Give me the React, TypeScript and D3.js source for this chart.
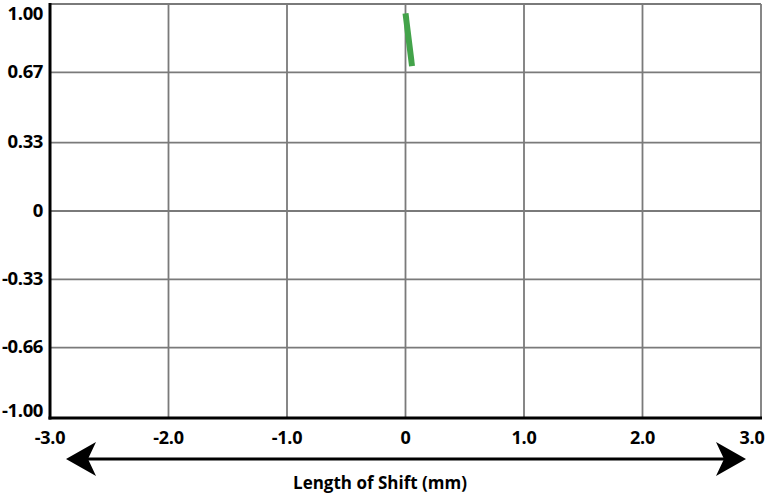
import React from "react";
import * as d3 from "d3";

const xTicks = [-3, -2, -1, 0, 1, 2, 3];
const xTickLabels = ["-3.0", "-2.0", "-1.0", "0", "1.0", "2.0", "3.0"];
const yTicks = [1.0, 0.67, 0.33, 0, -0.33, -0.66, -1.0];
const yTickLabels = ["1.00", "0.67", "0.33", "0", "-0.33", "-0.66", "-1.00"];
const lineX = [0.0, 0.055];
const lineY = [0.955, 0.7];
const xTitle = "Length of Shift (mm)";

const W = 768;
const H = 498;
const M = { left: 50, right: 8, top: 4, bottom: 80 };

export default function App() {
  const x = d3.scaleLinear().domain([-3, 3]).range([M.left, W - M.right + 1]);
  const y = d3.scaleLinear().domain([-1, 1]).range([H - M.bottom, M.top]);
  const pts: [number, number][] = lineX.map((v, i) => [v, lineY[i]]);
  const line = d3
    .line<[number, number]>()
    .x((d) => x(d[0]))
    .y((d) => y(d[1]));
  const font = "'Open Sans', 'Noto Sans', sans-serif";
  const arrowY = 459;
  const aL = 66;
  const aR = 746;
  const headLen = 30;
  const headHalf = 17;
  const notch = 8;
  const leftHead = `M${aL},${arrowY} L${aL + headLen},${arrowY - headHalf} L${aL + headLen - notch},${arrowY} L${aL + headLen},${arrowY + headHalf} Z`;
  const rightHead = `M${aR},${arrowY} L${aR - headLen},${arrowY - headHalf} L${aR - headLen + notch},${arrowY} L${aR - headLen},${arrowY + headHalf} Z`;
  const yFont = 18.5;
  // baseline position of y labels, kept inside the plot's vertical span
  const labelBase = (t: number) =>
    Math.max(20, Math.min(417, y(t) - 1 + yFont * 0.36));
  const labelX = (t: number) => Math.min(x(t), W - 16);
  return (
    <svg
      width={W}
      height={H}
      style={{ position: "absolute", left: 0, top: 0, background: "#fff" }}
    >
      <g>
        {xTicks.map((t) => (
          <line
            key={"gx" + t}
            x1={x(t)}
            x2={x(t)}
            y1={y(1)}
            y2={y(-1)}
            stroke="#7a7a7a"
            strokeWidth={1.8}
          />
        ))}
        {yTicks.map((t) => (
          <line
            key={"gy" + t}
            x1={x(-3)}
            x2={x(3)}
            y1={y(t)}
            y2={y(t)}
            stroke="#7a7a7a"
            strokeWidth={1.8}
          />
        ))}
      </g>
      <path
        d={line(pts) || ""}
        fill="none"
        stroke="#43a34a"
        strokeWidth={6}
      />
      <line
        x1={x(-3)}
        x2={x(-3)}
        y1={y(1) - 1}
        y2={y(-1) + 1.5}
        stroke="#000"
        strokeWidth={3}
      />
      <line
        x1={x(-3) - 1.5}
        x2={x(3) + 1}
        y1={y(-1)}
        y2={y(-1)}
        stroke="#000"
        strokeWidth={3}
      />
      {yTicks.map((t, i) => (
        <text
          key={"yl" + t}
          x={43}
          y={labelBase(t)}
          textAnchor="end"
          fontFamily={font}
          fontWeight={700}
          fontSize={yFont}
          letterSpacing={-0.4}
          fill="#000"
        >
          {yTickLabels[i]}
        </text>
      ))}
      {xTicks.map((t, i) => (
        <text
          key={"xl" + t}
          x={labelX(t)}
          y={444}
          textAnchor="middle"
          fontFamily={font}
          fontWeight={700}
          fontSize={18}
          letterSpacing={-0.3}
          fill="#000"
        >
          {xTickLabels[i]}
        </text>
      ))}
      <line
        x1={aL + 20}
        x2={aR - 20}
        y1={arrowY}
        y2={arrowY}
        stroke="#000"
        strokeWidth={3}
      />
      <path d={leftHead} fill="#000" />
      <path d={rightHead} fill="#000" />
      <text
        x={380}
        y={489}
        textAnchor="middle"
        fontFamily={font}
        fontWeight={700}
        fontSize={17}
        fill="#000"
      >
        {xTitle}
      </text>
    </svg>
  );
}
